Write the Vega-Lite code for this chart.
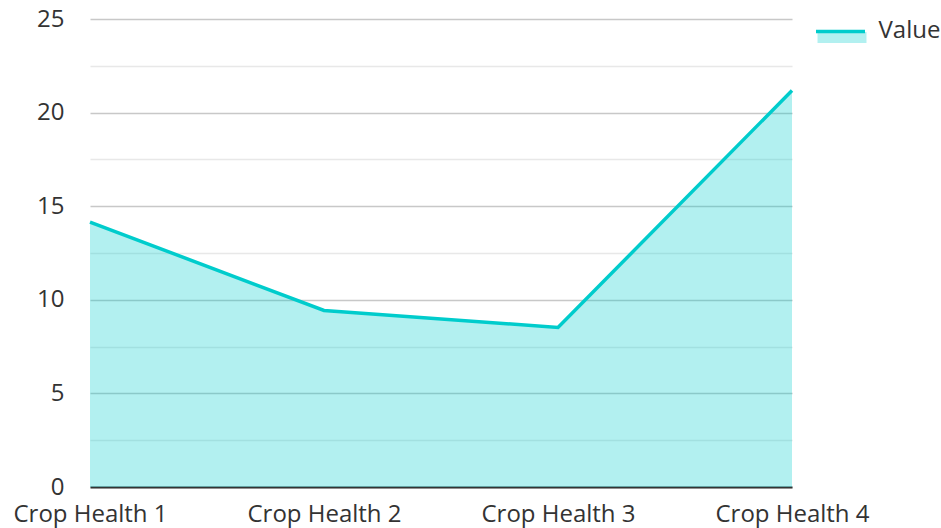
{
  "$schema": "https://vega.github.io/schema/vega-lite/v6.json",
  "width": 702,
  "height": 468,
  "autosize": "none",
  "padding": {"left": 90, "top": 19, "right": 149, "bottom": 41},
  "background": "white",
  "config": {
    "font": "Open Sans",
    "view": {"stroke": null},
    "axis": {"labelFont": "Open Sans", "labelFontSize": 24, "labelColor": "#333333", "title": null}
  },
  "data": {
    "values": [
      {"category": "Crop Health 1", "value": 14.15, "series": "Value"},
      {"category": "Crop Health 2", "value": 9.43, "series": "Value"},
      {"category": "Crop Health 3", "value": 8.52, "series": "Value"},
      {"category": "Crop Health 4", "value": 21.18, "series": "Value"}
    ]
  },
  "encoding": {
    "x": {
      "field": "category",
      "type": "ordinal",
      "scale": {"type": "point", "padding": 0},
      "axis": {"labelAngle": 0, "ticks": false, "grid": false, "domainColor": "#333333", "domainWidth": 2, "labelPadding": 15}
    },
    "y": {
      "field": "value",
      "type": "quantitative",
      "scale": {"domain": [0, 25], "nice": false},
      "axis": {
        "values": [0, 2.5, 5, 7.5, 10, 12.5, 15, 17.5, 20, 22.5, 25],
        "labelExpr": "datum.value % 5 === 0 ? datum.label : ''",
        "domain": false,
        "ticks": false,
        "labelPadding": 26,
        "grid": true,
        "gridColor": {"condition": {"test": "datum.value % 5 === 0", "value": "#c8c8c8"}, "value": "#e8e8e8"},
        "gridWidth": 1.5
      }
    }
  },
  "layer": [
    {
      "mark": {"type": "area", "fillOpacity": 0.3},
      "encoding": {
        "fill": {
          "field": "series",
          "type": "nominal",
          "scale": {"range": ["#00cccc"]},
          "legend": {
            "title": null,
            "orient": "right",
            "offset": 30.5,
            "symbolType": "M-2.45,0.1H2.45V1.2H-2.45Z",
            "symbolSize": 400,
            "symbolOpacity": 0.3,
            "symbolStrokeWidth": 0,
            "labelFont": "Open Sans",
            "labelFontSize": 24,
            "labelColor": "#333333",
            "labelOffset": 24.5,
            "padding": 0
          }
        }
      }
    },
    {
      "mark": {"type": "line", "strokeWidth": 3.5},
      "encoding": {
        "stroke": {
          "field": "series",
          "type": "nominal",
          "scale": {"range": ["#00cccc"]},
          "legend": {
            "title": null,
            "orient": "none",
            "legendX": 738.5,
            "legendY": 0,
            "symbolType": "M-2.45,0.05H2.45",
            "symbolSize": 400,
            "symbolStrokeWidth": 3.5,
            "labelExpr": "''",
            "labelFontSize": 24,
            "labelOffset": 25.5,
            "padding": 0
          }
        }
      }
    }
  ]
}
